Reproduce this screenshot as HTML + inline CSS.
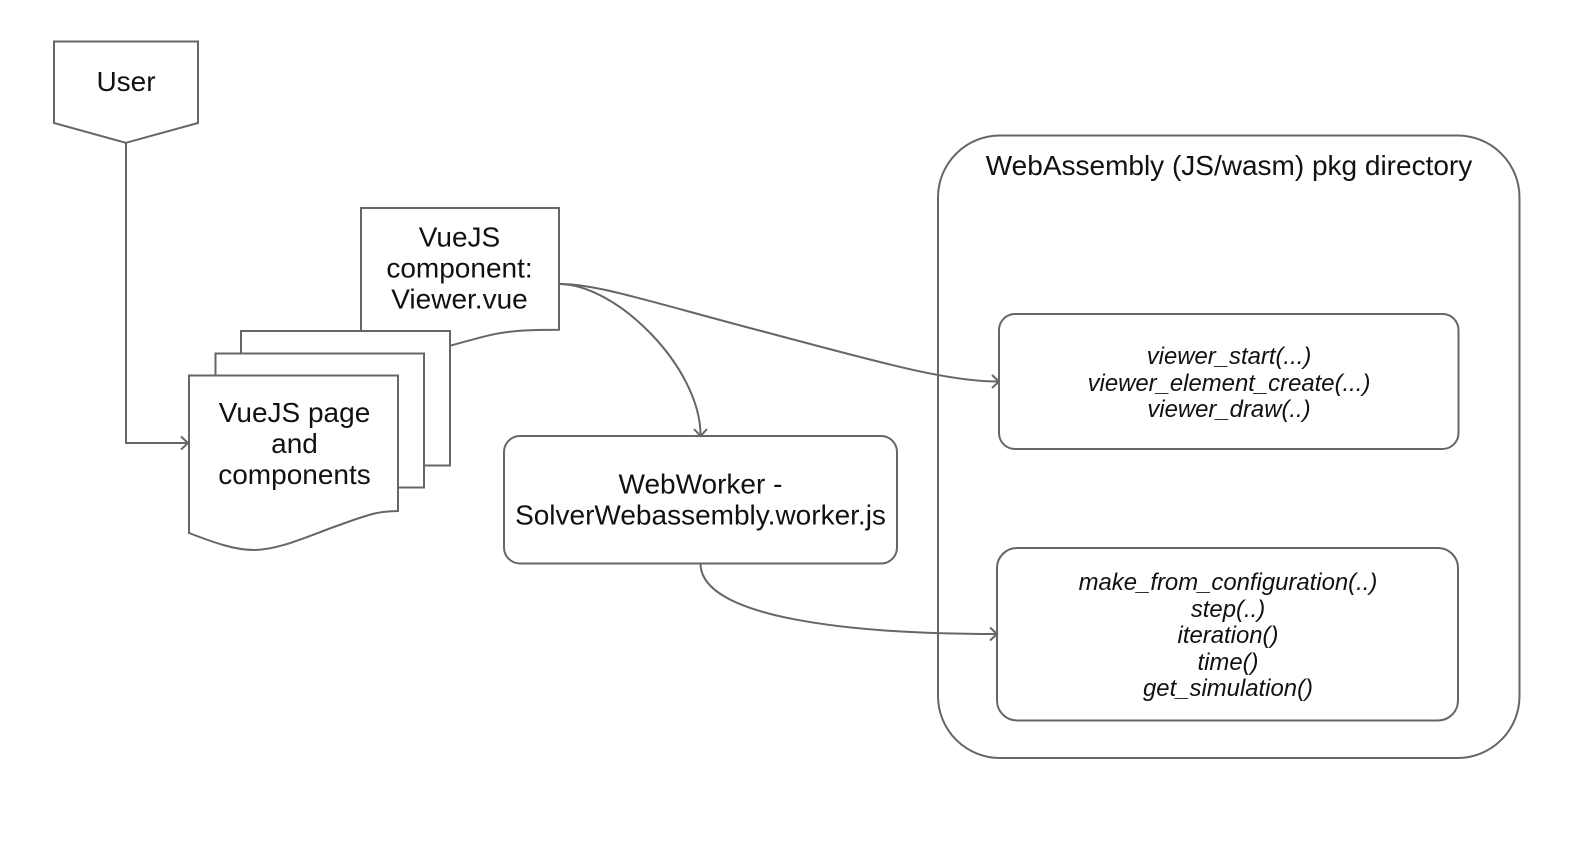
<!DOCTYPE html>
<html>
<head>
<meta charset="utf-8">
<style>
html,body{margin:0;padding:0;background:#fff;width:1582px;height:857px;overflow:hidden}
svg{display:block}
text{font-family:"Liberation Sans",Arial,sans-serif;fill:#111;text-anchor:middle}
.m{font-size:28px}
.i{font-size:23.9px;font-style:italic}
.s{fill:#fff;stroke:#666;stroke-width:2}
.c{fill:none;stroke:#666;stroke-width:2}
</style>
</head>
<body>
<svg width="1582" height="857" viewBox="0 0 1582 857" xmlns="http://www.w3.org/2000/svg">
<rect width="1582" height="857" fill="#fff"/>

<rect class="s" x="938" y="135.500" width="581.500" height="622.500" rx="62" ry="62"/>
<text class="m" x="1229" y="175">WebAssembly (JS/wasm) pkg directory</text>

<polygon class="s" points="54,41.500 198,41.500 198,123 126,142.800 54,123"/>
<text class="m" x="126" y="91">User</text>

<path class="s" d="M361 208 H559 V329.800 C527 329.800 507 330.800 487 335.800 C467 340.800 442 348 417 355 H361 Z"/>
<text class="m" x="459.500" y="246.500">VueJS</text>
<text class="m" x="459.500" y="277.500">component:</text>
<text class="m" x="459.500" y="308.500">Viewer.vue</text>

<rect class="s" x="241" y="331" width="209" height="134.500"/>
<rect class="s" x="215.500" y="353.500" width="208.500" height="134"/>
<path class="s" d="M189 375.500 H398 V511 C380 511 370 514 345 523 C310 535 280 550 254 550 C235 550 215 543 189 533 Z"/>
<text class="m" x="294.500" y="422">VueJS page</text>
<text class="m" x="294.500" y="453">and</text>
<text class="m" x="294.500" y="484">components</text>

<rect class="s" x="504" y="436" width="393" height="127.500" rx="16" ry="16"/>
<text class="m" x="700.500" y="493.500">WebWorker -</text>
<text class="m" x="700.500" y="524.500">SolverWebassembly.worker.js</text>

<rect class="s" x="999" y="314" width="459.500" height="135" rx="16" ry="16"/>
<text class="i" x="1229" y="364">viewer_start(...)</text>
<text class="i" x="1229" y="391">viewer_element_create(...)</text>
<text class="i" x="1229" y="417">viewer_draw(..)</text>

<rect class="s" x="997" y="548" width="461" height="172.500" rx="20" ry="20"/>
<text class="i" x="1228" y="590">make_from_configuration(..)</text>
<text class="i" x="1228" y="617">step(..)</text>
<text class="i" x="1228" y="643">iteration()</text>
<text class="i" x="1228" y="670">time()</text>
<text class="i" x="1228" y="696">get_simulation()</text>

<path class="c" d="M126 142.800 V443 H188"/>
<path class="c" d="M181 436.500 L188 443 L181 449.500"/>

<path class="c" d="M559 284 C597 284 640 299 765 332 C875 361 945 381.500 998 381.500"/>
<path class="c" d="M992 375 L999 381.500 L992 388"/>

<path class="c" d="M559 284 C617 284 700.500 368 700.500 435"/>
<path class="c" d="M694 429 L700.500 436 L707 429"/>

<path class="c" d="M700.500 563.500 C700.500 617 846 634 996 634"/>
<path class="c" d="M990 627.500 L997 634 L990 640.500"/>
</svg>
</body>
</html>
